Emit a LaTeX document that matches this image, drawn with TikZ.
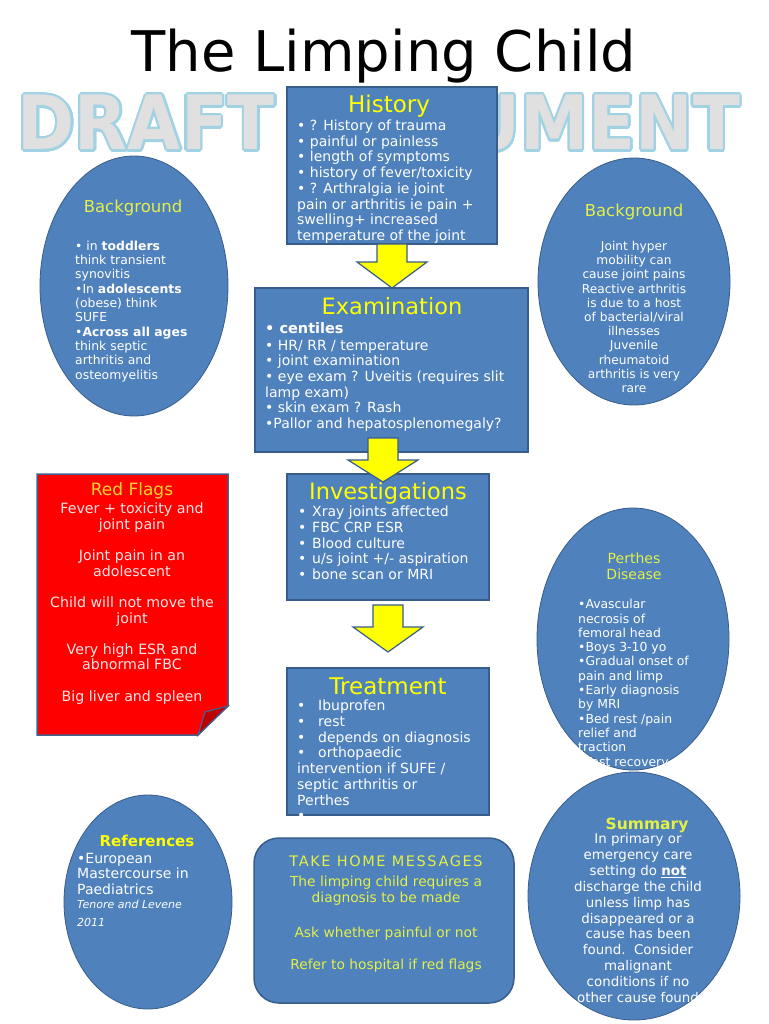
\documentclass[tikz,border=0pt]{standalone}
\usepackage{fontspec}
\setmainfont{DejaVu Sans}
\usepackage{contour}
\usetikzlibrary{shapes.geometric,positioning}
\definecolor{boxblue}{RGB}{79,129,189}
\definecolor{boxline}{RGB}{56,93,138}
\definecolor{headyellow}{RGB}{255,255,0}
\definecolor{limeyellow}{RGB}{228,240,70}
\definecolor{flagred}{RGB}{255,0,0}
\definecolor{flagline}{RGB}{65,98,140}
\definecolor{flagtext}{RGB}{255,228,228}
\definecolor{flaghead}{RGB}{255,212,40}
\definecolor{wmblue}{RGB}{160,210,228}
\definecolor{wmgray}{RGB}{224,224,224}
\contourlength{2.5pt}
\newcommand{\fs}[2]{\fontsize{#1}{#2}\selectfont}

\begin{document}
\begin{tikzpicture}[x=1pt,y=-1pt,
    panel/.style={draw=boxline, line width=1.5pt, fill=boxblue, inner sep=0pt},
    bubble/.style={ellipse, draw=boxline, line width=0.8pt, fill=boxblue, inner sep=0pt},
    head/.style={text=headyellow, inner sep=0pt, anchor=base},
    body/.style={text=white, inner sep=0pt, align=left, anchor=base west},
    cbody/.style={text=white, inner sep=0pt, align=center, anchor=base},
    blockarrow/.style={draw=boxline, line width=1.2pt, fill=headyellow, line join=miter}]
    \fill[white] (0,0) rectangle (768,1024);
    \useasboundingbox (0,0) rectangle (768,1024);

    % title and watermark (text nodes below sit on the baseline of their last line)
    \node[anchor=base, inner sep=0pt, font=\fs{56}{60}] (title) at (384,72) {The Limping Child};
    \node[anchor=base, inner sep=0pt, font=\fs{75}{80}\bfseries] (draft) at (379,150)
        {\scalebox{0.916}[1]{\contour{wmblue}{\textcolor{wmgray}{DRAFT DOCUMENT}}}};

    % left column
    \node[bubble, minimum width=188pt, minimum height=260pt] (bgL) at (134,286) {};
    \node[head, text=limeyellow, font=\fs{16.5}{18}] (bgLh) at (133,213) {Background};
    \node[body, font=\fs{12.4}{14.3}] (bgLt) at (75,379) {%
        • in \textbf{toddlers}\\ think transient\\ synovitis\\
        •In \textbf{adolescents}\\ (obese) think\\ SUFE\\
        •\textbf{Across all ages}\\ think septic\\ arthritis and\\ osteomyelitis};

    \draw[flagline, line width=1.5pt, fill=flagred]
        (37,474) -- (228,474) -- (228,706) -- (198,735) -- (37,735) -- cycle;
    \draw[flagline, line width=1.2pt, fill=red!75!black]
        (198,735) -- (205,712) -- (228,706) -- cycle;
    \node[head, text=flaghead, font=\fs{17}{18}] (flagh) at (132,495) {Red Flags};
    \node[cbody, text=flagtext, font=\fs{14.2}{15.6}] (flagt) at (132,701) {%
        Fever + toxicity and\\ joint pain\\[15.6pt]
        Joint pain in an\\ adolescent\\[15.6pt]
        Child will not move the\\ joint\\[15.6pt]
        Very high ESR and\\ abnormal FBC\\[15.6pt]
        Big liver and spleen};

    \node[bubble, minimum width=168pt, minimum height=214pt] (refs) at (148,902) {};
    \node[head, font=\fs{15}{16}\bfseries] (refsh) at (147,846) {References};
    \node[body, font=\fs{14}{15.5}] (refst) at (77,894) {%
        •European\\ Mastercourse in\\ Paediatrics};
    \node[body, font=\fs{11}{18}\itshape] (refsa) at (77,926) {Tenore and Levene\\ 2011};

    % centre column
    \node[panel, minimum width=210pt, minimum height=157pt] (history) at (392,165.5) {};
    \node[head, font=\fs{23}{24}] (historyh) at (389,113) {History};
    \node[body, font=\fs{14}{15.7}] (historyt) at (297,240.5) {%
        • ? History of trauma\\ • painful or painless\\ • length of symptoms\\
        • history of fever/toxicity\\ • ? Arthralgia ie joint\\
        pain or arthritis ie pain +\\ swelling+ increased\\ temperature of the joint};

    \node[panel, minimum width=273pt, minimum height=164pt] (exam) at (391.5,370) {};
    \node[head, font=\fs{22.5}{26}] (examh) at (392,314) {Examination};
    \node[body, font=\fs{14.5}{17}\bfseries] (examc) at (265,333) {• centiles};
    \node[body, font=\fs{14}{15.7}] (examt) at (265,428.5) {%
        • HR/ RR / temperature\\ • joint examination\\
        • eye exam ? Uveitis (requires slit\\ lamp exam)\\
        • skin exam ? Rash\\ •Pallor and hepatosplenomegaly?};

    \node[panel, minimum width=202pt, minimum height=126pt] (invest) at (388,537) {};
    \node[head, font=\fs{22.5}{24}] (investh) at (388,499) {Investigations};
    \node[body, font=\fs{14}{15.7}] (investt) at (298,579.5) {%
        \makebox[14pt][l]{•}Xray joints affected\\ \makebox[14pt][l]{•}FBC CRP ESR\\
        \makebox[14pt][l]{•}Blood culture\\ \makebox[14pt][l]{•}u/s joint +/- aspiration\\
        \makebox[14pt][l]{•}bone scan or MRI};

    \node[panel, minimum width=202pt, minimum height=147pt] (treat) at (388,741.5) {};
    \node[head, font=\fs{23}{24}] (treath) at (388,694) {Treatment};
    \node[body, font=\fs{14}{15.75}] (treatt) at (297,820.75) {%
        \makebox[21pt][l]{•}Ibuprofen\\ \makebox[21pt][l]{•}rest\\
        \makebox[21pt][l]{•}depends on diagnosis\\ \makebox[21pt][l]{•}orthopaedic\\
        intervention if SUFE /\\ septic arthritis or\\ Perthes\\ •};

    \node[panel, rounded corners=25pt, minimum width=260pt, minimum height=165pt] (takehome) at (384,920.5) {};
    \node[head, text=limeyellow, font=\fs{14.5}{16}\addfontfeature{LetterSpace=11}] (takehomeh) at (386,866) {TAKE HOME MESSAGES};
    \node[cbody, text=limeyellow, font=\fs{13.8}{16}] (takehomet) at (386,969.5) {%
        The limping child requires a\\ diagnosis to be made\\[19pt]
        Ask whether painful or not\\[16pt]
        Refer to hospital if red flags};

    % right column
    \node[bubble, minimum width=192pt, minimum height=247pt] (bgR) at (634,281.5) {};
    \node[head, text=limeyellow, font=\fs{16.5}{18}] (bgRh) at (634,217) {Background};
    \node[cbody, font=\fs{12.2}{14.2}] (bgRt) at (634,392.5) {%
        Joint hyper\\ mobility can\\ cause joint pains\\ Reactive arthritis\\
        is due to a host\\ of bacterial/viral\\ illnesses\\ Juvenile\\
        rheumatoid\\ arthritis is very\\ rare};

    \node[bubble, minimum width=192pt, minimum height=262pt] (perthes) at (633,639) {};
    \node[head, text=limeyellow, font=\fs{14}{16}, align=center] (perthesh) at (634,579.5) {Perthes\\ Disease};
    \node[body, font=\fs{12.4}{14.3}] (perthest) at (578,766) {%
        •Avascular\\ necrosis of\\ femoral head\\ •Boys 3-10 yo\\
        •Gradual onset of\\ pain and limp\\ •Early diagnosis\\ by MRI\\
        •Bed rest /pain\\ relief and\\ traction\\ •Fast recovery};

    \node[bubble, minimum width=212pt, minimum height=248pt] (summary) at (634,896) {};
    \node[head, text=limeyellow, font=\fs{15.5}{16}\bfseries] (summaryh) at (647,829) {Summary};
    \node[cbody, font=\fs{13.4}{15.9}] (summaryt) at (638,1002.5) {%
        In primary or\\ emergency care\\ setting do \underline{\textbf{not}}\\
        discharge the child\\ unless limp has\\ disappeared or a\\
        cause has been\\ found.\ \ Consider\\ malignant\\
        conditions if no\\ other cause found};

    % flow arrows
    \foreach \cx/\yt/\yh/\yb in {392/244/262/288, 383/438/460/482, 388/605/627/652}
        \draw[blockarrow] (\cx-15,\yt) -- (\cx+15,\yt) -- (\cx+15,\yh) -- (\cx+35,\yh)
            -- (\cx,\yb) -- (\cx-35,\yh) -- (\cx-15,\yh) -- cycle;
\end{tikzpicture}
\end{document}
